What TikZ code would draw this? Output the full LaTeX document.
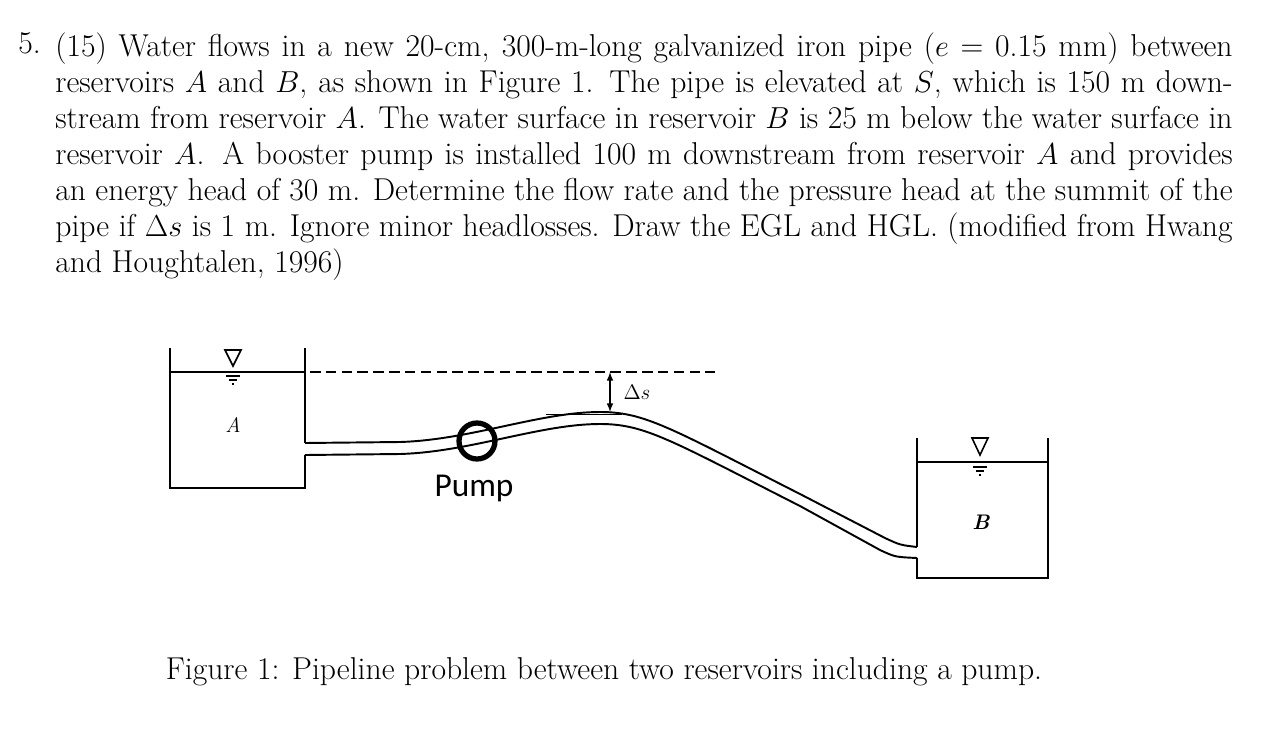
\documentclass[tikz,border=0pt]{standalone}
\usepackage{fontspec}
\usetikzlibrary{calc}
\newfontfamily\pumpfont{Carlito}
\begin{document}
\begin{tikzpicture}[x=0.02cm,y=-0.02cm,
  wall/.style={line width=1.3pt},
  pipe/.style={line width=1.1pt},
  lab/.style={font=\itshape\fontsize{12}{14}\selectfont}]
\useasboundingbox (0,0) rectangle (1286,754);
\node[anchor=north west,inner sep=0] (n5) at (18,32) {\fontsize{18}{20.5}\selectfont 5.};
\node[anchor=north west,inner sep=0,text width=23.55cm,align=justify] (txt) at (55,32) {\fontsize{18}{20.5}\selectfont
(15) Water flows in a new 20-cm, 300-m-long galvanized iron pipe ($e$ = 0.15 mm) between\linebreak
reservoirs $A$ and $B$, as shown in Figure 1. The pipe is elevated at $S$, which is 150 m down-\linebreak
stream from reservoir $A$. The water surface in reservoir $B$ is 25 m below the water surface in\linebreak
reservoir $A$. A booster pump is installed 100 m downstream from reservoir $A$ and provides\linebreak
an energy head of 30 m. Determine the flow rate and the pressure head at the summit of the\linebreak
pipe if $\Delta s$ is 1 m. Ignore minor headlosses. Draw the EGL and HGL. (modified from Hwang\linebreak
and Houghtalen, 1996)\par};
% reservoir A
\draw[wall] (170,348) -- (170,488) -- (305,488) -- (305,455);
\draw[wall] (305,443) -- (305,348);
\draw[line width=0.8pt] (170,372) -- (305,372);
\draw[line width=0.9pt] (225,350) -- (241,350) -- (233,366) -- cycle;
\draw[line width=0.8pt] (226,376) -- (240,376) (229,380) -- (237,380) (232,384) -- (234,384);
\draw[dashed,line width=0.8pt,dash pattern=on 6pt off 3pt] (310,372) -- (715,372);
\node[lab] (la) at (233,425) {A};
% pipe
\draw[pipe] (305,443) -- (400,442) .. controls (470,440) and (540,412) .. (600,412) .. controls (645,412) and (670,428) .. (800,494) -- (885,538) .. controls (900,545) .. (917,547);
\draw[pipe] (305,455) -- (400,454) .. controls (470,452) and (540,424) .. (600,424) .. controls (645,424) and (670,440) .. (800,506) -- (880,550) .. controls (895,557) .. (917,558);
\draw[line width=0.5pt] (546,414) -- (622,414);
% pump
\node[circle,draw,line width=3pt,minimum size=0.72cm,inner sep=0] (pump) at (477,441) {};
\node[font=\pumpfont\fontsize{19}{22}\selectfont] (pl) at (474,488) {Pump};
% delta s
\coordinate (d1) at (610,372);
\coordinate (d2) at (610,412);
\coordinate (dm) at ($(d1)!0.5!(d2)$);
\draw[-latex,line width=0.7pt] (dm) -- (d1);
\draw[-latex,line width=0.7pt] (dm) -- (d2);
\node[font=\fontsize{12}{14}\selectfont] (ds) at (637,392) {$\Delta s$};
% reservoir B
\draw[wall] (917,438) -- (917,547);
\draw[wall] (917,558) -- (917,578) -- (1048,578) -- (1048,438);
\draw[line width=0.8pt] (917,462) -- (1048,462);
\draw[line width=0.9pt] (972,438) -- (988,438) -- (980,455) -- cycle;
\draw[line width=0.8pt] (973,467) -- (987,467) (976,471) -- (984,471) (979,475) -- (981,475);
\node[font=\bfseries\itshape\fontsize{12}{14}\selectfont] (lb) at (981,522) {B};
% caption
\node[font=\fontsize{18}{20.5}\selectfont] (cap) at (604,672) {Figure 1: Pipeline problem between two reservoirs including a pump.};
\end{tikzpicture}
\end{document}
